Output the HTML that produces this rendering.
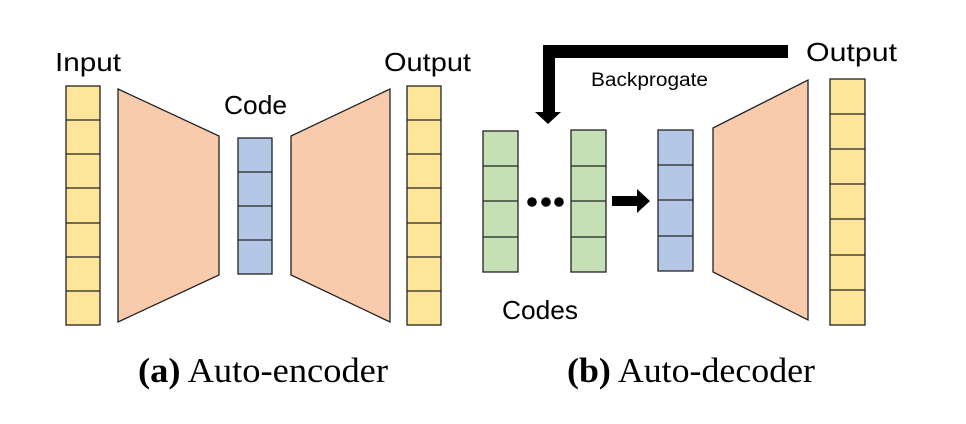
<!DOCTYPE html>
<html><head><meta charset="utf-8"><style>
html,body{margin:0;padding:0;background:#fff;}
svg{display:block;}
.s{font-family:"Liberation Sans",sans-serif;fill:#000;}
.r{font-family:"Liberation Serif",serif;fill:#000;}
</style></head><body>
<svg width="966" height="424" viewBox="0 0 966 424" xmlns="http://www.w3.org/2000/svg">
<defs>
<g id="y7" stroke="#222" stroke-width="1.3">
  <rect x="0" y="0" width="34" height="239" fill="#fde59a"/>
  <line x1="0" y1="34" x2="34" y2="34"/><line x1="0" y1="68" x2="34" y2="68"/>
  <line x1="0" y1="102" x2="34" y2="102"/><line x1="0" y1="137" x2="34" y2="137"/>
  <line x1="0" y1="171" x2="34" y2="171"/><line x1="0" y1="205" x2="34" y2="205"/>
</g>
</defs>
<!-- (a) -->
<text class="s" x="55" y="71" font-size="26" textLength="66" lengthAdjust="spacingAndGlyphs">Input</text>
<use href="#y7" x="66" y="86"/>
<polygon points="118,89 219,136 219,275 118,322" fill="#f8cbad" stroke="#222" stroke-width="1.3"/>
<text class="s" x="224" y="114" font-size="26" textLength="63" lengthAdjust="spacingAndGlyphs">Code</text>
<g stroke="#222" stroke-width="1.3">
<rect x="238" y="138" width="34" height="136" fill="#b4c7e7"/>
<line x1="238" y1="172" x2="272" y2="172"/><line x1="238" y1="206" x2="272" y2="206"/><line x1="238" y1="240" x2="272" y2="240"/>
</g>
<polygon points="291,136 390,89 390,322 291,275" fill="#f8cbad" stroke="#222" stroke-width="1.3"/>
<text class="s" x="384" y="71" font-size="26" textLength="87" lengthAdjust="spacingAndGlyphs">Output</text>
<use href="#y7" x="407" y="86"/>

<!-- (b) -->
<polygon points="543,45 788,45 788,58 555,58 555,112 561,112 548,124 535,112 543,112" fill="#000"/>
<text class="s" x="591" y="86" font-size="19" textLength="117" lengthAdjust="spacingAndGlyphs">Backprogate</text>
<text class="s" x="806" y="61" font-size="26" textLength="91" lengthAdjust="spacingAndGlyphs">Output</text>
<g stroke="#222" stroke-width="1.3">
<rect x="483" y="131" width="35" height="141" fill="#c5e0b4"/>
<line x1="483" y1="166" x2="518" y2="166"/><line x1="483" y1="201" x2="518" y2="201"/><line x1="483" y1="237" x2="518" y2="237"/>
<rect x="571" y="130" width="35" height="142" fill="#c5e0b4"/>
<line x1="571" y1="166" x2="606" y2="166"/><line x1="571" y1="201" x2="606" y2="201"/><line x1="571" y1="237" x2="606" y2="237"/>
<rect x="658" y="130" width="35" height="141" fill="#b4c7e7"/>
<line x1="658" y1="165" x2="693" y2="165"/><line x1="658" y1="200" x2="693" y2="200"/><line x1="658" y1="236" x2="693" y2="236"/>
</g>
<circle cx="532" cy="202" r="4.8" fill="#000"/><circle cx="546" cy="202" r="4.8" fill="#000"/><circle cx="559" cy="202" r="4.8" fill="#000"/>
<polygon points="612,196 637,196 637,189 650,201 637,213 637,206 612,206" fill="#000"/>
<polygon points="713,128 808,80 808,320 713,272" fill="#f8cbad" stroke="#222" stroke-width="1.3"/>
<g stroke="#222" stroke-width="1.3">
<rect x="830" y="79" width="35" height="246" fill="#fde59a"/>
<line x1="830" y1="114" x2="865" y2="114"/><line x1="830" y1="149" x2="865" y2="149"/><line x1="830" y1="184" x2="865" y2="184"/>
<line x1="830" y1="219" x2="865" y2="219"/><line x1="830" y1="255" x2="865" y2="255"/><line x1="830" y1="290" x2="865" y2="290"/>
</g>
<text class="s" x="502" y="319" font-size="26" textLength="76" lengthAdjust="spacingAndGlyphs">Codes</text>

<text class="r" x="138" y="382" font-size="35" textLength="250" lengthAdjust="spacingAndGlyphs"><tspan font-weight="bold">(a)</tspan> Auto-encoder</text>
<text class="r" x="567" y="382" font-size="35" textLength="248" lengthAdjust="spacingAndGlyphs"><tspan font-weight="bold">(b)</tspan> Auto-decoder</text>
</svg>
</body></html>
